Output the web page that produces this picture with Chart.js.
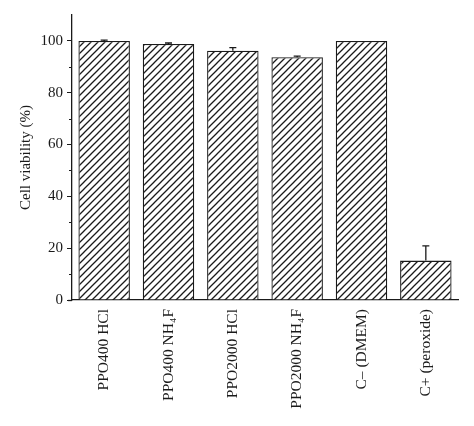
<!DOCTYPE html>
<html>
<head>
<meta charset="utf-8">
<script src="https://cdn.jsdelivr.net/npm/chart.js@4.4.0/dist/chart.umd.min.js"></script>
<style>
html,body{margin:0;padding:0;background:#fff;}
#wrap{width:474px;height:426px;}
</style>
</head>
<body>
<div id="wrap"><canvas id="c" width="474" height="426"></canvas></div>
<script>
const categories = ['PPO400 HCl', 'PPO400 NH\u2084F', 'PPO2000 HCl', 'PPO2000 NH\u2084F', 'C\u2013 (DMEM)', 'C+ (peroxide)'];
const viability = [100, 98.8, 96.2, 93.7, 100, 15.2];
const errors = [0.3, 0.4, 1.2, 0.4, 0, 5.7];
const yTicks = [0, 20, 40, 60, 80, 100];
const minorTicks = [10, 30, 50, 70, 90];

const FONT = "'Liberation Serif','Times New Roman',serif";
const INK = '#1a1a1a';

function makeHatch() {
  const s = 7;
  const p = document.createElement('canvas');
  p.width = s; p.height = s;
  const g = p.getContext('2d');
  g.fillStyle = '#fff';
  g.fillRect(0, 0, s, s);
  g.strokeStyle = INK;
  g.lineWidth = 1.3;
  g.beginPath();
  g.moveTo(-1, s + 1); g.lineTo(s + 1, -1);
  g.moveTo(-1, 1); g.lineTo(1, -1);
  g.moveTo(s - 1, s + 1); g.lineTo(s + 1, s - 1);
  g.stroke();
  return g.createPattern(p, 'repeat');
}

const errorBars = {
  id: 'errorBars',
  afterDatasetsDraw(chart) {
    const meta = chart.getDatasetMeta(0);
    const y = chart.scales.y;
    const ctx = chart.ctx;
    ctx.save();
    ctx.strokeStyle = INK;
    ctx.lineWidth = 1.3;
    meta.data.forEach((bar, i) => {
      if (!errors[i]) return;
      const yb = y.getPixelForValue(viability[i]);
      const yt = y.getPixelForValue(viability[i] + errors[i]);
      ctx.beginPath();
      ctx.moveTo(bar.x, yb);
      ctx.lineTo(bar.x, yt);
      ctx.moveTo(bar.x - 3.5, yt);
      ctx.lineTo(bar.x + 3.5, yt);
      ctx.stroke();
    });
    ctx.restore();
  }
};

const minorTickPlugin = {
  id: 'minorTicks',
  afterDraw(chart) {
    const y = chart.scales.y;
    const ctx = chart.ctx;
    const x0 = chart.chartArea.left;
    ctx.save();
    ctx.strokeStyle = INK;
    ctx.lineWidth = 1;
    minorTicks.forEach(v => {
      const py = Math.round(y.getPixelForValue(v)) + 0.5;
      ctx.beginPath();
      ctx.moveTo(x0 - 3, py);
      ctx.lineTo(x0, py);
      ctx.stroke();
    });
    // x axis line extends slightly left of the y axis
    const yb = Math.round(chart.chartArea.bottom) + 0.5;
    ctx.lineWidth = 1.3;
    ctx.beginPath();
    ctx.moveTo(x0 - 4, yb);
    ctx.lineTo(x0, yb);
    ctx.stroke();
    ctx.restore();
  }
};

new Chart(document.getElementById('c'), {
  type: 'bar',
  data: {
    labels: categories,
    datasets: [{
      data: viability,
      backgroundColor: makeHatch(),
      borderColor: INK,
      borderWidth: 1.3,
      borderSkipped: 'bottom',
      barPercentage: 0.8,
      categoryPercentage: 1.0
    }]
  },
  options: {
    responsive: false,
    animation: false,
    devicePixelRatio: 1,
    layout: { padding: { top: 15, right: 16, left: 0, bottom: 0 } },
    plugins: { legend: { display: false }, tooltip: { enabled: false } },
    scales: {
      x: {
        grid: { display: false },
        border: { display: true, color: INK, width: 1.3 },
        ticks: {
          color: INK,
          font: { family: FONT, size: 15.5 },
          minRotation: 90,
          maxRotation: 90,
          autoSkip: false,
          padding: 1
        },
        afterFit(scale) { scale.height = 126; }
      },
      y: {
        min: 0,
        max: 110,
        grid: {
          drawOnChartArea: false,
          tickLength: 5,
          color: c => (c.tick && yTicks.includes(c.tick.value)) ? INK : 'rgba(0,0,0,0)'
        },
        border: { display: true, color: INK, width: 1.3 },
        ticks: {
          stepSize: 10,
          color: INK,
          font: { family: FONT, size: 15 },
          padding: 4,
          callback: v => yTicks.includes(v) ? String(v) : ''
        },
        title: {
          display: true,
          text: 'Cell viability (%)',
          color: INK,
          font: { family: FONT, size: 15 },
          padding: { top: 17, bottom: 0 }
        },
        afterFit(scale) { scale.width = 72; }
      }
    }
  },
  plugins: [errorBars, minorTickPlugin]
});
</script>
</body>
</html>
